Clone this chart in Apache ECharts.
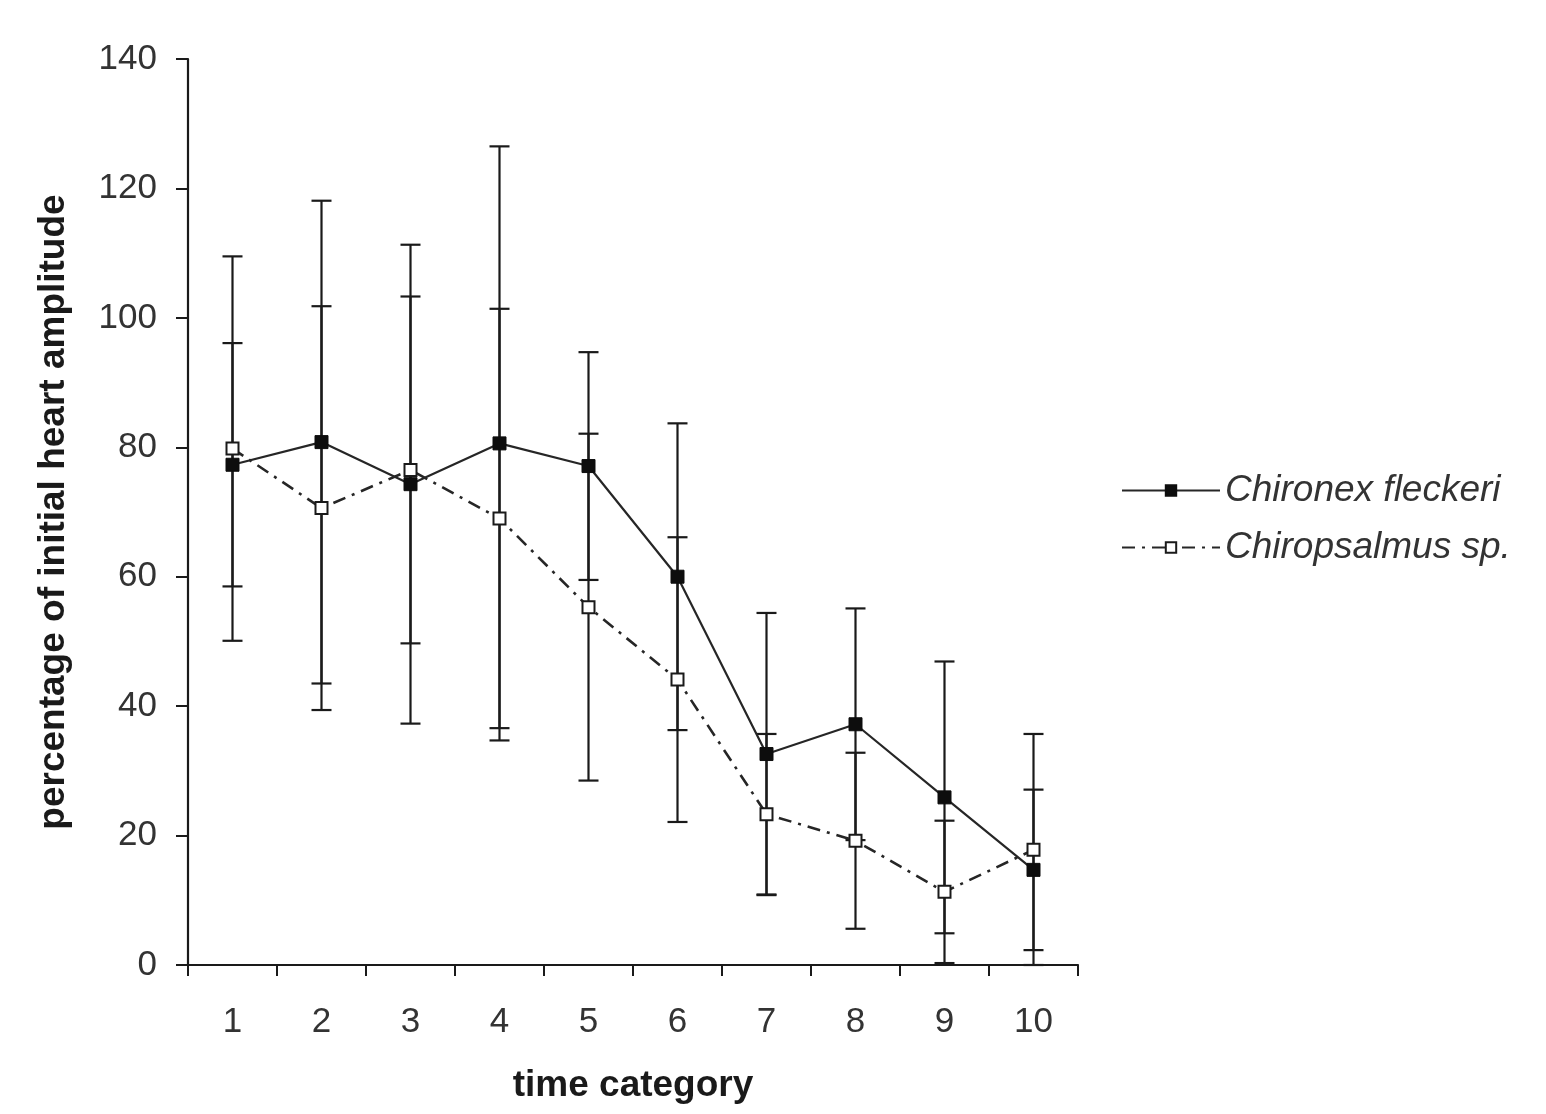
<!DOCTYPE html>
<html>
<head>
<meta charset="utf-8">
<script src="https://cdn.jsdelivr.net/npm/echarts@6/dist/echarts.min.js"></script>
<style>
html,body{margin:0;padding:0;background:#fff;}
#chart{width:1546px;height:1114px;}
</style>
</head>
<body>
<div id="chart"></div>
<script>
// ---- data ----
const categories = ['1','2','3','4','5','6','7','8','9','10'];
const chironexMean = [77.3, 80.8, 74.3, 80.6, 77.1, 60.0, 32.6, 37.2, 25.9, 14.7];
const chironexErr  = [18.8, 37.3, 37.0, 45.9, 17.6, 23.7, 21.8, 17.9, 21.0, 12.4];
const chiropsalmusMean = [79.8, 70.6, 76.5, 69.0, 55.3, 44.1, 23.3, 19.2, 11.3, 17.8];
const chiropsalmusErr  = [29.7, 31.2, 26.8, 32.4, 26.8, 22.0, 12.4, 13.6, 11.0, 17.9];
const yTicks = [0, 20, 40, 60, 80, 100, 120, 140];
const seriesNames = ['Chironex fleckeri', 'Chiropsalmus sp.'];

const FONT = '"Liberation Sans", Arial, sans-serif';

function errData(means, errs) {
  return means.map((m, i) => [i, m, errs[i]]);
}
function renderErr(params, api) {
  const i = api.value(0), m = api.value(1), e = api.value(2);
  const top = api.coord([i, m + e]);
  const bot = api.coord([i, Math.max(0, m - e)]);
  const half = 10;
  const style = {stroke: '#1a1a1a', lineWidth: 2.2};
  return {
    type: 'group',
    children: [
      {type: 'line', shape: {x1: top[0], y1: top[1], x2: bot[0], y2: bot[1]}, style: style},
      {type: 'line', shape: {x1: top[0] - half, y1: top[1], x2: top[0] + half, y2: top[1]}, style: style},
      {type: 'line', shape: {x1: bot[0] - half, y1: bot[1], x2: bot[0] + half, y2: bot[1]}, style: style}
    ]
  };
}

const chart = echarts.init(document.getElementById('chart'), null, {renderer: 'canvas'});
chart.setOption({
  animation: false,
  backgroundColor: '#ffffff',
  grid: {left: 188, right: 468, top: 59, bottom: 149, containLabel: false},
  legend: {
    orient: 'vertical',
    left: 1116,
    top: 467,
    itemWidth: 98,
    itemHeight: 13,
    itemGap: 20,
    data: seriesNames,
    textStyle: {fontFamily: FONT, fontStyle: 'italic', fontSize: 37, color: '#333'}
  },
  xAxis: {
    type: 'category',
    data: categories,
    boundaryGap: true,
    name: 'time category',
    nameLocation: 'middle',
    nameGap: 102,
    nameTextStyle: {fontFamily: FONT, fontWeight: 'bold', fontSize: 37, color: '#1a1a1a'},
    axisLine: {lineStyle: {color: '#1a1a1a', width: 2.2}},
    axisTick: {show: true, alignWithLabel: false, interval: 0, length: 11, lineStyle: {color: '#1a1a1a', width: 2}},
    axisLabel: {margin: 40, fontFamily: FONT, fontSize: 35, color: '#333', interval: 0},
    splitLine: {show: false}
  },
  yAxis: {
    type: 'value',
    min: yTicks[0],
    max: yTicks[yTicks.length - 1],
    interval: yTicks[1] - yTicks[0],
    name: 'percentage of initial heart amplitude',
    nameLocation: 'middle',
    nameGap: 116,
    nameTextStyle: {fontFamily: FONT, fontWeight: 'bold', fontSize: 37, color: '#1a1a1a'},
    axisLine: {show: true, lineStyle: {color: '#1a1a1a', width: 2.2}},
    axisTick: {show: true, length: 12, lineStyle: {color: '#1a1a1a', width: 2}},
    axisLabel: {margin: 31, fontFamily: FONT, fontSize: 35, color: '#333'},
    splitLine: {show: false}
  },
  series: [
    {
      type: 'custom',
      name: 'errChironex',
      renderItem: renderErr,
      data: errData(chironexMean, chironexErr),
      encode: {x: 0, y: 1},
      z: 1,
      silent: true
    },
    {
      type: 'custom',
      name: 'errChiropsalmus',
      renderItem: renderErr,
      data: errData(chiropsalmusMean, chiropsalmusErr),
      encode: {x: 0, y: 1},
      z: 1,
      silent: true
    },
    {
      type: 'line',
      name: seriesNames[0],
      data: chironexMean,
      symbol: 'rect',
      symbolSize: 13,
      lineStyle: {color: '#262626', width: 2.2, type: 'solid'},
      itemStyle: {color: '#0d0d0d', borderColor: '#0d0d0d', borderWidth: 1},
      z: 3
    },
    {
      type: 'line',
      name: seriesNames[1],
      data: chiropsalmusMean,
      symbol: 'rect',
      symbolSize: 12,
      showAllSymbol: true,
      lineStyle: {color: '#262626', width: 2.6, type: [13, 7, 3, 7]},
      itemStyle: {color: '#ffffff', borderColor: '#1a1a1a', borderWidth: 2},
      z: 4
    }
  ]
});
</script>
</body>
</html>
